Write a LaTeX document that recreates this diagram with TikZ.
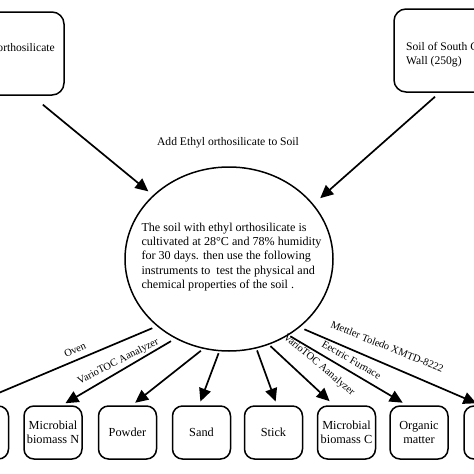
\documentclass[tikz,border=0pt]{standalone}
\usepackage{fontspec}
\setmainfont{Liberation Serif}
\usetikzlibrary{arrows.meta,shapes.geometric}
\begin{document}
\begin{tikzpicture}[x=1pt,y=-1pt,
  box/.style={draw, line width=1.5pt, rounded corners=10pt, minimum width=58pt, minimum height=53pt, inner sep=0pt, align=center, font=\fontsize{12.3}{14}\selectfont},
  bigbox/.style={draw, line width=1.5pt, rounded corners=12pt, minimum height=83pt, inner sep=0pt},
  arr/.style={line width=1.7pt, -{Triangle[length=13pt,width=12pt]}},
  lbl/.style={font=\fontsize{10.5}{12}\selectfont, inner sep=0pt},
  txt/.style={font=\fontsize{11.6}{14}\selectfont, inner sep=0pt, align=left},
  ctxt/.style={font=\fontsize{12.1}{14.2}\selectfont, inner sep=0pt, align=left}]
\useasboundingbox (0,0) rectangle (474,474);
\clip (0,0) rectangle (474,474);

% top boxes
\node[bigbox, minimum width=124pt] (tl) at (2,53.5) {};
\node[txt, anchor=east] (tltext) at (55,48) {orthosilicate};
\node[bigbox, minimum width=126pt] (tr) at (457,50.5) {};
\node[txt, anchor=west] (trtext) at (406,55) {Soil of South C\\Wall (250g)};

% central ellipse
\node[draw, ellipse, line width=1.5pt, minimum width=208pt, minimum height=184pt, inner sep=0pt] (circ) at (229,259) {};
\node[ctxt] (ctext) at (231.5,257) {The soil with ethyl orthosilicate is\\cultivated at 28°C and 78\% humidity\\for 30 days. then use the following\\instruments to\ \ test the physical and\\chemical properties of the soil .};

\node[txt] (addlbl) at (228,143) {Add Ethyl orthosilicate to Soil};

% top arrows
\draw[arr, shorten <=14pt, shorten >=6pt] ([xshift=30pt]tl.south) -- (circ.140);
\draw[arr, shorten <=6pt, shorten >=9pt] ([xshift=-17.5pt]tr.south) -- (circ.33);

% bottom boxes
\node[box] (lb) at (-20.5,432.5) {};
\node[box] (bN) at (53,432.5) {Microbial\\biomass N};
\node[box] (bP) at (127.5,432.5) {Powder};
\node[box] (bS) at (201.5,432.5) {Sand};
\node[box] (bT) at (273.5,432.5) {Stick};
\node[box] (bC) at (346.5,432.5) {Microbial\\biomass C};
\node[box] (bO) at (419,432.5) {Organic\\matter};
\node[box] (rb) at (493,432.5) {};

% bottom arrows
\draw[arr, shorten <=5pt, shorten >=4pt] (circ.223.8) -- ([xshift=-10pt]lb.north);
\draw[arr, shorten <=5pt, shorten >=4pt] (circ.236) -- ([xshift=9pt]bN.north);
\draw[arr, shorten <=3pt, shorten >=4pt] (circ.254) -- ([xshift=4.5pt]bP.north);
\draw[arr, shorten <=2pt, shorten >=4pt] (circ.264.5) -- ([xshift=-2.5pt]bS.north);
\draw[arr, shorten <=2pt, shorten >=4pt] (circ.287) -- ([xshift=3.5pt]bT.north);
\draw[arr, shorten <=2pt, shorten >=6pt] (circ.295.5) -- ([xshift=-12.5pt]bC.north);
\draw[arr, shorten <=2pt, shorten >=5pt] (circ.308.7) -- ([xshift=-12pt]bO.north);
\draw[arr, shorten <=5pt, shorten >=5pt] (circ.316.6) -- ([xshift=-12pt]rb.north);

% connector labels
\node[lbl, rotate=24] (l1) at (75,350) {Oven};
\node[lbl, rotate=27] (l2) at (118.3,361.7) {VarioTOC Aanalyzer};
\node[lbl, rotate=-40] (l3) at (319,365) {VarioTOC Aanalyzer};
\node[lbl, rotate=-30] (l4) at (351.5,360) {Eectric Furnace};
\node[lbl, rotate=-22] (l5) at (387.3,346.7) {Mettler Toledo XMTD-8222};
\end{tikzpicture}
\end{document}
